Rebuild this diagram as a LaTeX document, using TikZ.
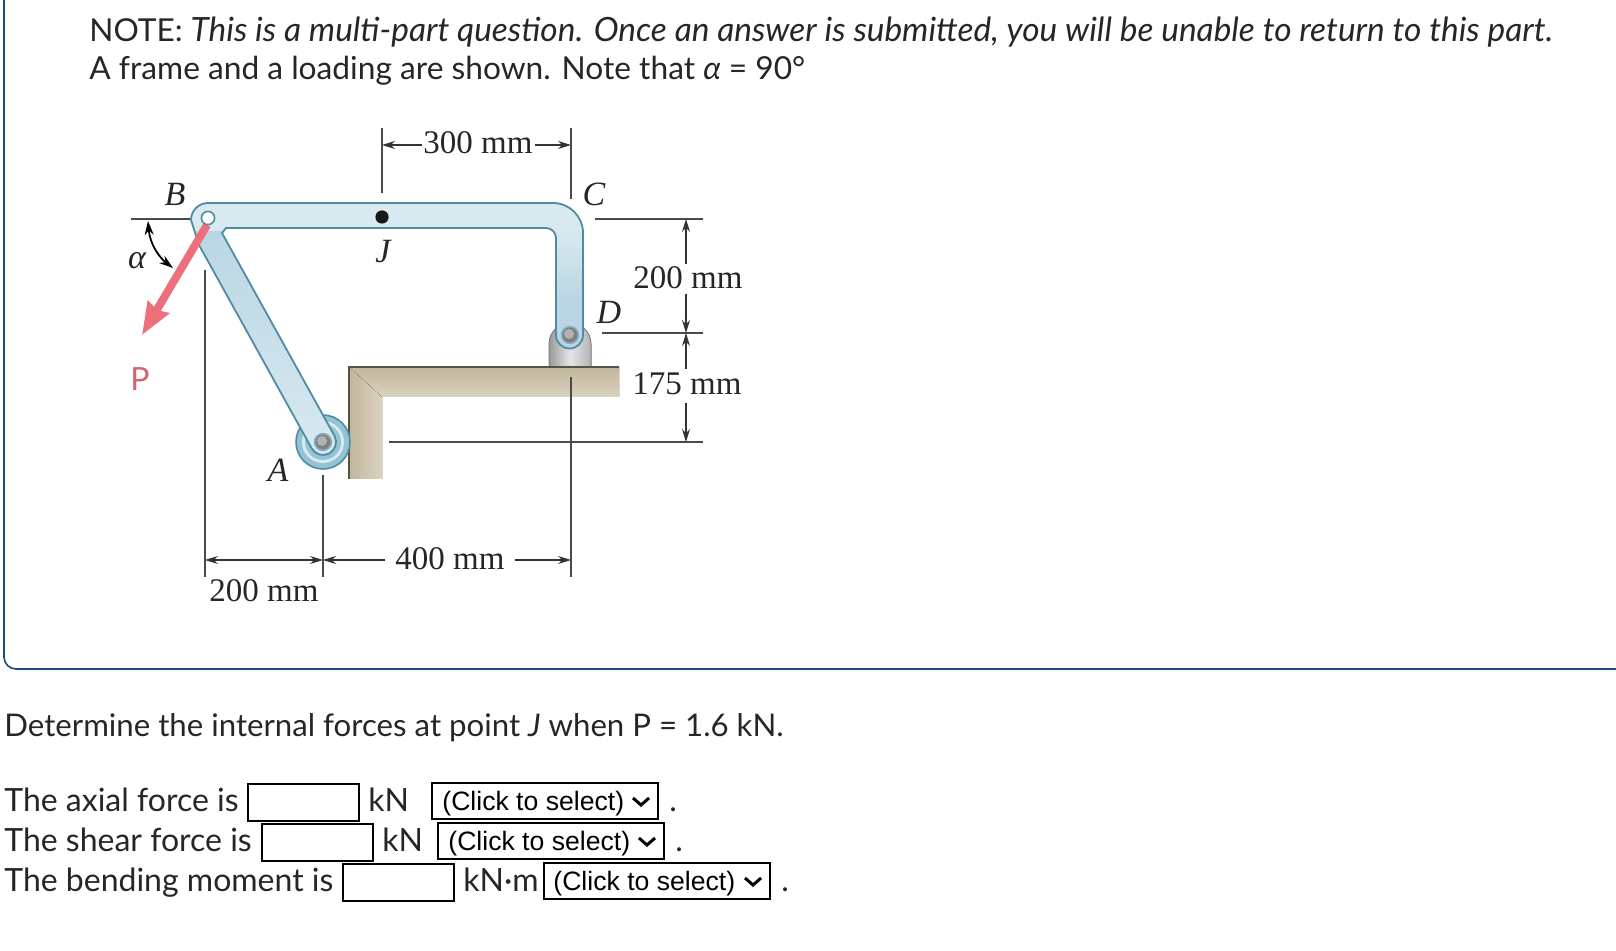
\documentclass[tikz,border=0pt]{standalone}
\usepackage{fontspec}
\setmainfont{Lato}
\newfontfamily\figfont{Liberation Serif}
\newfontfamily\selfont{Liberation Sans}
\usetikzlibrary{arrows.meta}
\definecolor{barblue}{HTML}{BAD6E4}
\definecolor{barlight}{HTML}{D9E9F0}
\definecolor{bardark}{HTML}{A8CADA}
\definecolor{baredge}{HTML}{4F8CA3}
\definecolor{ringblue}{HTML}{93C4D6}
\definecolor{tanbase}{HTML}{DAD3C1}
\definecolor{tandark}{HTML}{C2B69B}
\definecolor{redload}{HTML}{EE6F7C}
\definecolor{framenavy}{HTML}{1A4A80}
\definecolor{textgray}{HTML}{262626}
\definecolor{dimgray}{HTML}{4A4A4A}
\tikzset{
  bodytext/.style={anchor=base west,inner sep=0pt,font=\fontsize{16}{18}\selectfont,text=textgray},
  dimtext/.style={inner sep=0pt,font=\figfont\fontsize{16.5}{20}\selectfont,text=textgray},
  ptlabel/.style={inner sep=0pt,font=\figfont\itshape\fontsize{17}{20}\selectfont,text=textgray},
  dimline/.style={draw=dimgray,line width=1pt},
  dimarrow/.style={draw=black!80,line width=.6pt,-{Stealth[length=6.5pt,width=4pt]}},
  inputbox/.style={draw=black,line width=1pt,fill=white,minimum width=55.5pt,minimum height=18.5pt,inner sep=0pt},
  selectbox/.style={draw=black,line width=1pt,fill=white,minimum width=113pt,minimum height=18pt,inner sep=0pt},
  selecttext/.style={anchor=base west,inner sep=0pt,font=\selfont\fontsize{13.3}{16}\selectfont,text=black},
  chevron/.style={draw=black,line width=1.5pt}
}
\def\framepath{(191,220) arc[start angle=180,end angle=270,radius=17] -- (553,203)
  arc[start angle=-90,end angle=0,radius=30] -- (583,335)
  arc[start angle=0,end angle=180,radius=13.5] -- (556,238)
  arc[start angle=0,end angle=-90,radius=10] -- (226,228) -- (222,233)
  -- (334.4,435.7) arc[start angle=-29,end angle=151,radius=13] -- (199,245) -- cycle}
\begin{document}
\begin{tikzpicture}[x=0.5pt,y=-0.5pt]
\useasboundingbox (0,0) rectangle (1616,951);

% panel edge
\draw[framenavy,line width=.8pt] (4,0) -- (4,657) arc[start angle=180,end angle=90,radius=12] -- (1616,669);

% question text
\node[bodytext,font=\fontsize{15.8}{18}\selectfont] (line1) at (89,42) {NOTE: {\fontsize{16.7}{18}\selectfont\textit{This is a multi-part question. Once an answer is submitted, you will be unable to return to this part.}}};
\node[bodytext,font=\fontsize{15.85}{18}\selectfont] (line2) at (89,80) {A frame and a loading are shown. Note that \textit{α} = 90°};
\node[bodytext,font=\fontsize{15.6}{18}\selectfont] (ask) at (4,736) {Determine the internal forces at point \textit{J} when P = 1.6 kN.};

% support
\coordinate (SA) at (349,367);
\coordinate (SB) at (619,367);
\coordinate (SC) at (619,397);
\coordinate (SD) at (382,397);
\coordinate (SE) at (382,479);
\coordinate (SF) at (349,479);
\fill[tandark!50!tanbase] (SA)--(SB)--(SC)--(SD)--(SE)--(SF)--cycle;
\fill[top color=tandark,bottom color=tanbase] (SA)--(SB)--(SC)--(SD)--cycle;
\fill[left color=tandark,right color=tanbase] (SA)--(SD)--(SE)--(SF)--cycle;
\draw[black!55!tandark,line width=.8pt] (SF)--(SA)--(SB);

% bracket at D
\coordinate (D) at (570,335);
\fill[left color=black!40,right color=black!30,middle color=black!10] (549,366)--(549,344) arc[start angle=180,end angle=360,radius=21] -- (591,366)--cycle;
\draw[black!50,line width=.5pt] (549,366)--(549,344) arc[start angle=180,end angle=360,radius=21] -- (591,366);

% collar at A
\coordinate (A) at (323,442);
\draw[baredge,line width=.8pt,fill=ringblue] (A) circle[radius=13.5pt];
\fill[barlight] (A) circle[radius=10.5pt];
\fill[ringblue] (A) circle[radius=9pt];

% frame BCD and link AB
\coordinate (B) at (208,218);
\begin{scope}
  \clip \framepath;
  \fill[barblue] (185,195) rectangle (600,360);
  \shade[left color=barlight,middle color=bardark,right color=barlight] (185,200) rectangle (590,240);
  \shade[top color=barlight,bottom color=barblue] (540,232) rectangle (590,300);
  \shade[top color=barblue,bottom color=barlight] (185,232) rectangle (345,460);
\end{scope}
\draw[baredge,line width=.9pt] \framepath;

% load
\coordinate (Ptail) at (207,225);
\coordinate (Ptip) at (142,335);
\draw[redload,line width=4pt,-{Triangle[length=16pt,width=12pt,inset=1.5pt]}] (Ptail) -- (Ptip);

% pins
\draw[baredge,fill=white,line width=.8pt] (B) circle[radius=3.3pt];
\foreach \pin in {A,D}{
  \draw[baredge!70,fill=black!50,line width=.8pt] (\pin) circle[radius=4.2pt];
  \fill[black!30] (\pin) ++(-1,-1) circle[radius=2.5pt];
}
\coordinate (J) at (382,217);
\fill[black!90] (J) circle[radius=3.3pt];

% extension lines
\draw[dimline] (382,128) -- (382,193);
\draw[dimline] (571,128) -- (571,199);
\draw[dimline] (131,219) -- (190,219);
\draw[dimline] (595,219) -- (703,219);
\draw[dimline] (602,333) -- (703,333);
\draw[dimline] (389,442) -- (703,442);
\draw[dimline] (205,270) -- (205,577);
\draw[dimline] (323,475) -- (323,577);
\draw[dimline] (571,377) -- (571,577);

% dimensions
\coordinate (d1) at (382,145);
\coordinate (d2) at (571,145);
\draw[dimarrow] (422,145) -- (d1);
\draw[dimarrow] (535,145) -- (d2);
\draw[dimarrow] (686,264) -- (686,219);
\draw[dimarrow] (686,294) -- (686,333);
\draw[dimarrow] (686,369) -- (686,333);
\draw[dimarrow] (686,403) -- (686,442);
\draw[dimarrow,{Stealth[length=6.5pt,width=4pt]}-{Stealth[length=6.5pt,width=4pt]}] (205,560) -- (323,560);
\draw[dimarrow] (385,560) -- (323,560);
\draw[dimarrow] (515,560) -- (571,560);
\draw[black,line width=.9pt,{Stealth[length=7pt,width=4.5pt]}-{Stealth[length=7pt,width=4.5pt]}] (148,221) .. controls (150,245) and (160,258) .. (173,268);

\node[dimtext] (t300) at (478,143) {300 mm};
\node[dimtext] (t200a) at (688,278) {200 mm};
\node[dimtext] (t175) at (687,384) {175 mm};
\node[dimtext] (t400) at (450,559) {400 mm};
\node[dimtext] (t200b) at (264,591) {200 mm};

\node[ptlabel] (lB) at (175,194) {B};
\node[ptlabel] (lC) at (594,194) {C};
\node[ptlabel] (lD) at (609,312) {D};
\node[ptlabel] (lJ) at (383,252) {J};
\node[ptlabel] (lA) at (278,470) {A};
\node[ptlabel] (lalpha) at (137,261) {α};
\node[inner sep=0pt,font=\fontsize{16}{20}\selectfont,text=redload!90!black] (lP) at (140,379) {P};

% answers
\node[bodytext] (ax) at (4,811) {The axial force is};
\node[bodytext] (sh) at (4,851) {The shear force is};
\node[bodytext] (be) at (4,891) {The bending moment is};
\node[inputbox] (in1) at (303.5,802.5) {};
\node[inputbox] (in2) at (317,842.5) {};
\node[inputbox] (in3) at (398.5,882.5) {};
\node[bodytext] (u1) at (368,811) {kN};
\node[bodytext] (u2) at (382,851) {kN};
\node[bodytext] (u3) at (463,891) {kN·m};
\node[selectbox] (s1) at (545,801) {};
\node[selectbox] (s2) at (551,841) {};
\node[selectbox] (s3) at (656.5,881) {};
\node[selecttext] (c1) at (442,810) {(Click to select)};
\node[selecttext] (c2) at (448,850) {(Click to select)};
\node[selecttext] (c3) at (553,890) {(Click to select)};
\foreach \cx/\cy in {641/801,647/841,753/881}{
  \draw[chevron] (\cx-8,\cy-3) -- (\cx,\cy+4) -- (\cx+8,\cy-3);
}
\node[bodytext] (p1) at (669,811) {.};
\node[bodytext] (p2) at (675,851) {.};
\node[bodytext] (p3) at (781,891) {.};
\end{tikzpicture}
\end{document}
